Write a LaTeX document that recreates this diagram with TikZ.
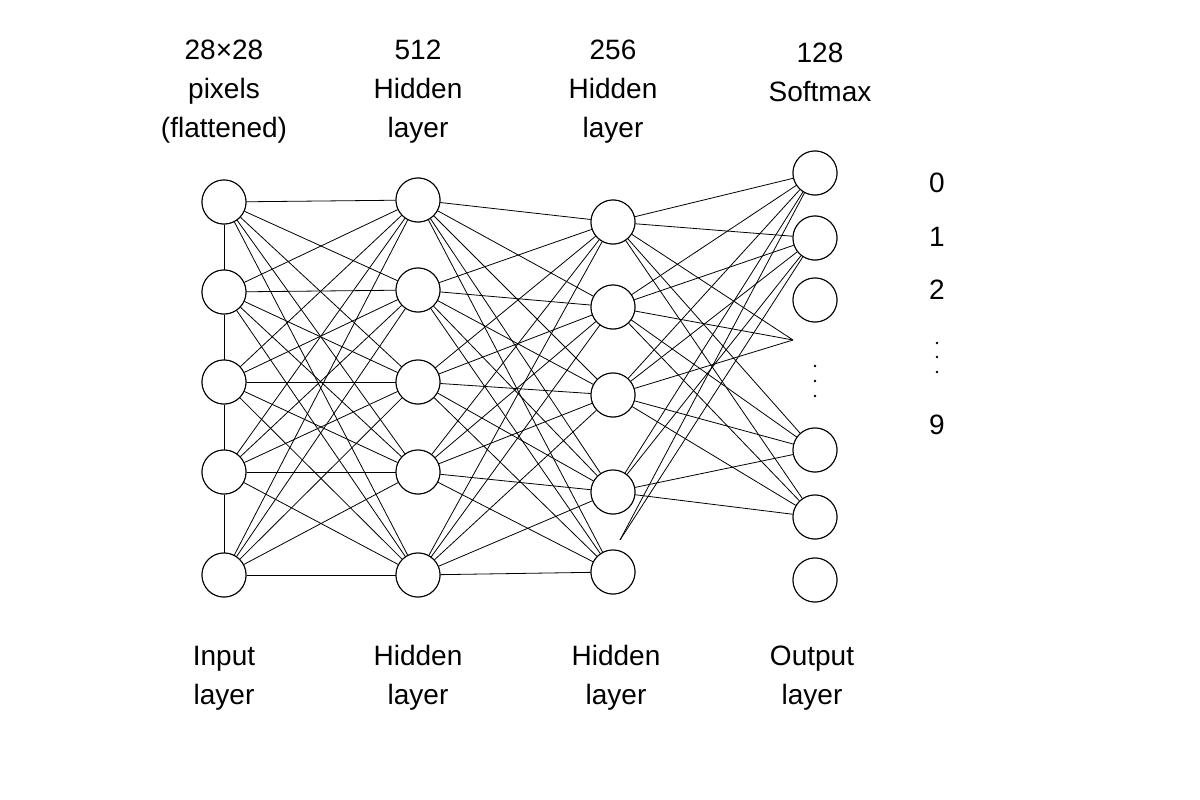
\documentclass[tikz,border=0pt]{standalone}
\usepackage{fontspec}
\setmainfont{Liberation Sans}
\begin{document}
\begin{tikzpicture}[x=1pt,y=-1pt,
  neuron/.style={circle,draw,line width=1pt,minimum size=44pt,inner sep=0pt,fill=white},
  lbl/.style={font=\fontsize{28}{39}\selectfont,align=center},
  edge/.style={line width=0.8pt},
  dot/.style={fill=black}]
\useasboundingbox[fill=white] (0,0) rectangle (1200,800);
\foreach \n/\y in {1/202,2/292,3/382,4/472,5/575}{\node[neuron] (a\n) at (224,\y) {};}
\foreach \n/\y in {1/200,2/290,3/382,4/472,5/575}{\node[neuron] (b\n) at (418,\y) {};}
\foreach \n/\y in {1/222,2/307,3/395,4/492,5/572}{\node[neuron] (c\n) at (613,\y) {};}
\foreach \n/\y in {1/173,2/238,3/300,4/450,5/517,6/580}{\node[neuron] (d\n) at (815,\y) {};}
\foreach \i in {1,...,5}{\foreach \j in {1,...,5}{\draw[edge] (a\i) -- (b\j); \draw[edge] (b\i) -- (c\j);}}
\foreach \i in {1,...,4}{\foreach \j in {1,2,4,5}{\draw[edge] (c\i) -- (d\j);}}
\coordinate (p) at (793,340); \coordinate (q) at (620,540);
\foreach \i in {1,2,3}{\draw[edge] (c\i) -- (p);}
\draw[edge] (q) -- (d1); \draw[edge] (q) -- (d2);
\draw[edge] (a1) -- (a2) (a2) -- (a3) (a3) -- (a4) (a4) -- (a5);
\foreach \n in {1,...,5}{\node[neuron] at (a\n) {};\node[neuron] at (b\n) {};\node[neuron] at (c\n) {};}
\foreach \n in {1,...,6}{\node[neuron] at (d\n) {};}
\foreach \y in {366,381,396}{\fill[dot] (815,\y) circle (1.4);}
\foreach \y in {343,357,372}{\fill[dot] (937,\y) circle (1.4);}
\node[lbl] (t1) at (224,92) {28×28\\pixels\\(flattened)};
\node[lbl] (t2) at (418,92) {512\\Hidden\\layer};
\node[lbl] (t3) at (613,92) {256\\Hidden\\layer};
\node[lbl] (t4) at (820,72) {128\\Softmax};
\node[lbl] (o0) at (937,183) {0};
\node[lbl] (o1) at (937,237) {1};
\node[lbl] (o2) at (937,290) {2};
\node[lbl] (o9) at (937,425) {9};
\node[lbl] (l1) at (224,678) {Input\\layer};
\node[lbl] (l2) at (418,678) {Hidden\\layer};
\node[lbl] (l3) at (616,678) {Hidden\\layer};
\node[lbl] (l4) at (812,678) {Output\\layer};
\end{tikzpicture}
\end{document}
